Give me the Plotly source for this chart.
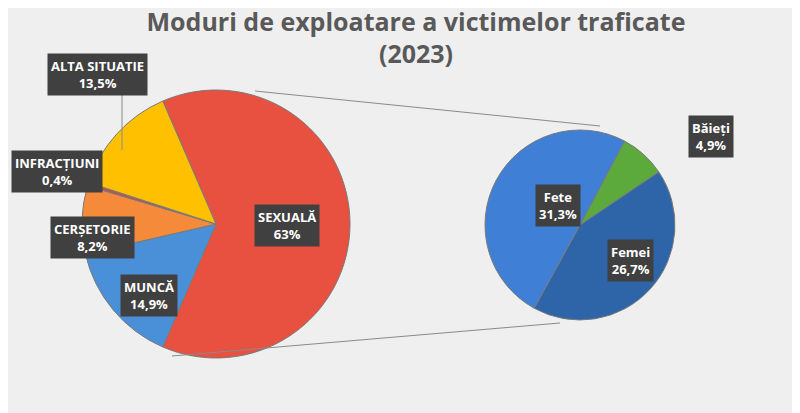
import plotly.graph_objects as go

main_labels = ["SEXUALĂ", "MUNCĂ", "CERȘETORIE", "INFRACȚIUNI", "ALTA SITUATIE"]
main_values = [63.0, 14.9, 8.2, 0.4, 13.5]
main_colors = ["#E8503F", "#4A90D9", "#F58A3A", "#C0504D", "#FFC000"]
sub_labels = ["Băieți", "Femei", "Fete"]
sub_values = [4.9, 26.7, 31.3]
sub_colors = ["#5DAA3C", "#2E64A8", "#3F7FD6"]

W, H = 800, 413
OFF = 8
def px(x): return (x - OFF) / W
def py(y): return 1 - (y - OFF) / H

fig = go.Figure()
fig.add_trace(go.Pie(values=main_values, labels=main_labels, sort=False, direction="clockwise",
                     rotation=90 - 63 * 3.6 / 2, textinfo="none", hoverinfo="label+value",
                     marker=dict(colors=main_colors, line=dict(color="#7a7a7a", width=1)),
                     domain=dict(x=[px(82), px(350)], y=[py(358), py(90)]), showlegend=False))
fig.add_trace(go.Pie(values=sub_values, labels=sub_labels, sort=False, direction="clockwise",
                     rotation=28, textinfo="none",
                     marker=dict(colors=sub_colors, line=dict(color="#7a7a7a", width=1)),
                     domain=dict(x=[px(485), px(675)], y=[py(325), py(125)]), showlegend=False))

def lab(x, y, t):
    fig.add_annotation(x=px(x), y=py(y), xref="paper", yref="paper", text=t, showarrow=False,
                       xanchor="center", yanchor="middle",
                       font=dict(color="white", size=13, family="Open Sans"), bgcolor="#404040",
                       borderpad=3, align="center")

lab(97, 74, "<b>ALTA SITUATIE<br>13,5%</b>")
lab(57, 172, "<b>INFRACȚIUNI<br>0,4%</b>")
lab(92, 237, "<b>CERȘETORIE<br>8,2%</b>")
lab(149, 295, "<b>MUNCĂ<br>14,9%</b>")
lab(287, 225, "<b>SEXUALĂ<br>63%</b>")
lab(558, 205, "<b>Fete<br>31,3%</b>")
lab(630, 261, "<b>Femei<br>26,7%</b>")
lab(711, 137, "<b>Băieți<br>4,9%</b>")

shapes = [
    dict(type="line", xref="paper", yref="paper", x0=px(255), y0=py(91), x1=px(600), y1=py(126),
         line=dict(color="#8a8a8a", width=1)),
    dict(type="line", xref="paper", yref="paper", x0=px(172), y0=py(356), x1=px(560), y1=py(323),
         line=dict(color="#8a8a8a", width=1)),
    dict(type="line", xref="paper", yref="paper", x0=px(122), y0=py(90), x1=px(122), y1=py(150),
         line=dict(color="#8a8a8a", width=1)),
]
fig.update_layout(width=W, height=H, margin=dict(l=0, r=0, t=0, b=0),
                  paper_bgcolor="#efefef", shapes=shapes,
                  title=dict(text="<b>Moduri de exploatare a victimelor traficate<br>(2023)</b>",
                             x=px(416), xanchor="center", y=0.945, yanchor="top",
                             font=dict(size=25, color="#595959", family="Open Sans")))
fig.write_html("out.html")
